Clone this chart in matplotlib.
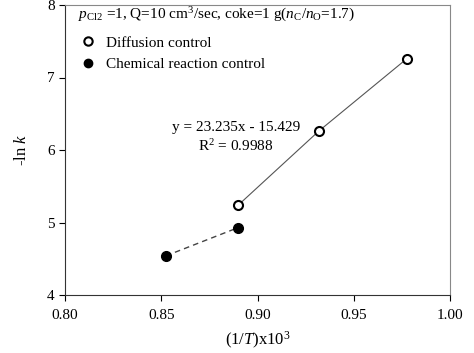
import matplotlib
matplotlib.use("Agg")
import matplotlib.pyplot as plt
from matplotlib.lines import Line2D

plt.rcParams['font.family'] = ['Liberation Serif', 'DejaVu Serif']
plt.rcParams['mathtext.fontset'] = 'custom'
plt.rcParams['mathtext.rm'] = 'Liberation Serif'
plt.rcParams['mathtext.it'] = 'Liberation Serif:italic'

# diffusion control (open circles)
x_diff = [0.890, 0.9318, 0.9776]
y_diff = [5.24, 6.26, 7.26]
# chemical reaction control (filled circles)
x_chem = [0.8524, 0.890]
y_chem = [4.54, 4.93]

xticks = [0.80, 0.85, 0.90, 0.95, 1.00]
yticks = [4, 5, 6, 7, 8]

W, H = 474, 353
fig = plt.figure(figsize=(W/100, H/100), dpi=100)
ax = fig.add_axes([65/W, 1-295/H, (450-65)/W, (295-5)/H])

ax.plot(x_diff, y_diff, '-', color='#555555', lw=0.8, zorder=1)
ax.plot(x_chem, y_chem, '--', color='#444444', lw=1.0, dashes=(4, 3), zorder=1)
ax.plot(x_diff, y_diff, 'o', ms=6.5, mfc='white', mec='black', mew=1.5, ls='none', zorder=3)
ax.plot(x_chem, y_chem, 'o', ms=7, mfc='black', mec='black', ls='none', zorder=3)

ax.set_xlim(0.80, 1.00)
ax.set_ylim(4, 8)
ax.set_xticks(xticks)
ax.set_xticklabels(['%.2f' % v for v in xticks])
ax.set_yticks(yticks)
ax.tick_params(direction='out', length=4, width=0.8, labelsize=11, colors='black')
ax.tick_params(axis='x', pad=6)

for s in ['top', 'right']:
    ax.spines[s].set_color('#888888')
for s in ['left', 'bottom']:
    ax.spines[s].set_color('#333333')

ax.set_xlabel(r'(1/$\mathit{T}$)x10$^3$', fontsize=12, labelpad=6)
ax.set_ylabel(r'-ln $\mathit{k}$', fontsize=12, labelpad=12)

fig.text(78/W, 1-15/H, r'$\mathit{p}_{\rm Cl2}$ =1, Q=10 cm$^3$/sec, coke=1 g($\mathit{n}_{\rm C}$/$\mathit{n}_{\rm O}$=1.7)',
         fontsize=11, va='center', ha='left')

handles = [Line2D([], [], marker='o', ls='none', ms=6, mfc='white', mec='black', mew=1.5),
           Line2D([], [], marker='o', ls='none', ms=6, mfc='black', mec='black')]
leg = ax.legend(handles, ['Diffusion control', 'Chemical reaction control'],
                loc='upper left', bbox_to_anchor=(80/W, 1-36/H), bbox_transform=fig.transFigure,
                frameon=False, fontsize=11, handletextpad=0.7, handlelength=1.0,
                labelspacing=0.5, borderaxespad=0, borderpad=0)

fig.text(236/W, 1-128/H, 'y = 23.235x - 15.429', fontsize=11, ha='center', va='center')
fig.text(236/W, 1-146/H, r'R$^2$ = 0.9988', fontsize=11, ha='center', va='center')

fig.savefig('out.png', dpi=100)
